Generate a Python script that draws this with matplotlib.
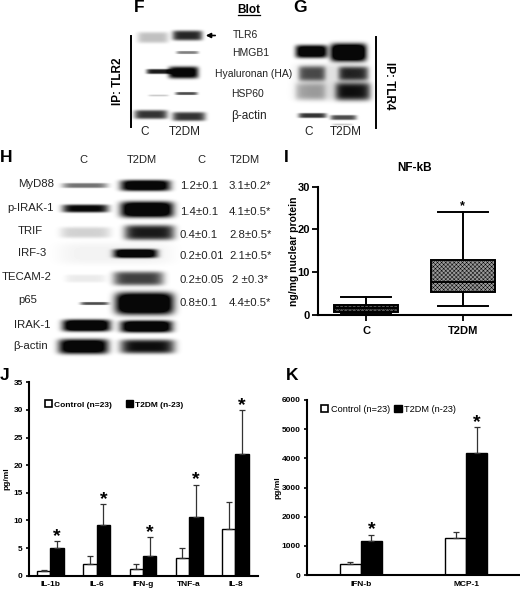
import numpy as np
import matplotlib
matplotlib.use('Agg')
import matplotlib.pyplot as plt
from matplotlib.patches import Patch

plt.rcParams['font.family'] = ['Liberation Sans', 'DejaVu Sans']
plt.rcParams['hatch.linewidth'] = 0.35

W, H = 520, 590

# Blot labels
blot_f = ['TLR6', 'HMGB1', 'Hyaluronan (HA)', 'HSP60', 'β-actin']
blot_h = ['MyD88', 'p-IRAK-1', 'TRIF', 'IRF-3', 'TECAM-2', 'p65', 'IRAK-1', 'β-actin']
h_control = ['1.2±0.1', '1.4±0.1', '0.4±0.1', '0.2±0.01', '0.2±0.05', '0.8±0.1']
h_t2dm = ['3.1±0.2*', '4.1±0.5*', '2.8±0.5*', '2.1±0.5*', '2 ±0.3*', '4.4±0.5*']

# Panel I box plot
box_names = ['C', 'T2DM']
box_low = [0.5, 2.2]
box_q1 = [0.8, 5.3]
box_med = [1.7, 7.8]
box_q3 = [2.4, 12.8]
box_high = [4.2, 24.0]

# Panel J
j_names = ['IL-1b', 'IL-6', 'IFN-g', 'TNF-a', 'IL-8']
j_control = [0.9, 2.1, 1.2, 3.2, 8.4]
j_control_err = [0.2, 1.5, 0.9, 1.9, 5.0]
j_t2dm = [5.0, 9.1, 3.5, 10.6, 22.0]
j_t2dm_err = [1.2, 3.9, 3.5, 5.9, 8.0]

# Panel K
k_names = ['IFN-b', 'MCP-1']
k_control = [370, 1270]
k_control_err = [90, 200]
k_t2dm = [1150, 4200]
k_t2dm_err = [230, 880]


def make_axes(fig, left, right, top, bottom):
    ax = fig.add_axes([left / W, 1 - bottom / H, (right - left) / W, (bottom - top) / H])
    ax.patch.set_alpha(0)
    ax.spines['top'].set_visible(False)
    ax.spines['right'].set_visible(False)
    ax.spines['left'].set_linewidth(1.5)
    ax.spines['bottom'].set_linewidth(1.5)
    return ax


# the blots are painted on one gray canvas in pixel coordinates
yy, xx = np.mgrid[0:H, 0:W]
canvas = np.zeros((H, W))


def band(x0, x1, y, h, dark):
    cx = (x0 + x1) / 2
    hw = (x1 - x0) / 2
    canvas[:] += dark * np.exp(-((xx - cx) / hw) ** 6 - ((yy - y) / (h / 2)) ** 4)


# panel F
band(137, 168, 37, 11, 0.25)
band(172, 202, 35, 10, 0.85)
band(176, 198, 52, 3, 0.5)
band(146, 170, 71, 5, 0.9)
band(168, 198, 72, 12, 1.1)
band(148, 168, 95, 2, 0.2)
band(175, 197, 93, 3, 0.7)
band(134, 167, 114, 9, 0.8)
band(172, 205, 116, 9, 0.8)
# panel G
band(295, 327, 51, 13, 1.2)
band(330, 366, 52, 18, 1.4)
band(295, 368, 73, 20, 0.12)
band(298, 325, 73, 15, 0.6)
band(338, 368, 73, 14, 0.75)
band(295, 370, 91, 19, 0.15)
band(295, 325, 91, 17, 0.25)
band(335, 370, 91, 18, 0.8)
band(298, 326, 115, 5, 0.8)
band(330, 356, 117, 5, 0.7)
band(332, 352, 124, 2, 0.2)
# panel H
band(62, 107, 185, 5, 0.55)
band(120, 170, 185, 11, 1.2)
band(62, 108, 208, 8, 1.0)
band(120, 173, 209, 16, 1.3)
band(60, 110, 232, 11, 0.18)
band(124, 174, 232, 15, 0.9)
band(58, 172, 253, 22, 0.05)
band(113, 157, 253, 9, 1.2)
band(65, 105, 278, 8, 0.08)
band(113, 163, 278, 14, 0.75)
band(80, 108, 303, 3, 0.7)
band(115, 173, 303, 22, 1.4)
band(62, 110, 325, 12, 1.3)
band(120, 172, 326, 12, 1.3)
band(58, 108, 346, 15, 1.2)
band(120, 174, 346, 14, 0.95)

fig = plt.figure(figsize=(W / 100, H / 100), dpi=100)
bg = fig.add_axes([0, 0, 1, 1])
bg.imshow(1 - np.clip(canvas, 0, 0.97), cmap='gray', vmin=0, vmax=1, extent=(0, W, H, 0), aspect='auto')
bg.set_xlim(0, W)
bg.set_ylim(H, 0)
bg.axis('off')

# panel letters
for letter, x, y in [('F', 134, 7), ('G', 293, 7), ('H', 0, 157), ('I', 284, 157), ('J', 0, 375), ('K', 286, 375)]:
    bg.text(x, y, letter, fontsize=12.5, fontweight='bold', va='center', ha='left')

# panels F and G text
bg.text(249, 10, 'Blot', fontsize=8.5, fontweight='bold', ha='center', va='center')
bg.plot([238, 260], [15, 15], color='k', lw=0.9)
for name, x, y in zip(blot_f, [245, 251, 254, 248, 249], [35, 53, 74, 94, 116]):
    bg.text(x, y, name, fontsize=8.5 if name == 'β-actin' else 7.5, ha='center', va='center', color='#222222')
bg.annotate('', xy=(203, 35.5), xytext=(218, 35.5), arrowprops=dict(arrowstyle='-|>', color='k', lw=1.2, mutation_scale=7))
bg.plot([131, 131], [36, 127], color='k', lw=1.4)
bg.plot([376, 376], [37, 128], color='k', lw=1.4)
bg.text(118, 81, 'IP: TLR2', fontsize=8.5, fontweight='bold', rotation=90, ha='center', va='center')
bg.text(389, 86, 'IP: TLR4', fontsize=8.5, fontweight='bold', rotation=270, ha='center', va='center')
for x, label in [(145, 'C'), (185, 'T2DM'), (309, 'C'), (346, 'T2DM')]:
    bg.text(x, 132, label, fontsize=8.5, ha='center', va='center', color='#222222')

# panel H text
for x, label in [(83, 'C'), (142, 'T2DM'), (201, 'C'), (245, 'T2DM')]:
    bg.text(x, 160, label, fontsize=8, ha='center', va='center', color='#222222')
for name, x, y in zip(blot_h, [36, 31, 30, 32, 27, 28, 32, 31], [184, 208, 231, 253, 277, 300, 325, 346]):
    bg.text(x, y, name, fontsize=8.2, ha='center', va='center', color='#222222')
for a, b, y in zip(h_control, h_t2dm, [186, 212, 235, 256, 280, 303]):
    bg.text(180, y, a, fontsize=8.2, ha='left', va='center', color='#222222')
    bg.text(229 if b[1] != ' ' else 232, y, b, fontsize=8.2, ha='left', va='center', color='#222222')

# panel I
ax_i = make_axes(fig, 318, 511, 186.7, 315)
stats = [dict(label=n, whislo=a, q1=b, med=c, q3=d, whishi=e)
         for n, a, b, c, d, e in zip(box_names, box_low, box_q1, box_med, box_q3, box_high)]
boxes = ax_i.bxp(stats, positions=[0, 1], widths=0.665, showfliers=False, patch_artist=True,
                 boxprops=dict(facecolor='#9a9a9a', edgecolor='k', lw=1.4, hatch='xxxxxxxx'),
                 medianprops=dict(color='k', lw=1.4),
                 whiskerprops=dict(color='k', lw=1.4),
                 capprops=dict(color='k', lw=1.4), capwidths=0.52)
boxes['boxes'][0].set_facecolor('#555555')
ax_i.set_xlim(-0.497, 1.5)
ax_i.set_ylim(0, 30)
ax_i.set_yticks([0, 10, 20, 30])
ax_i.tick_params(axis='both', width=1.3, length=4, labelsize=8, pad=2)
ax_i.tick_params(axis='x', pad=4)
for lab in ax_i.get_xticklabels() + ax_i.get_yticklabels():
    lab.set_fontweight('bold')
ax_i.set_ylabel('ng/mg nuclear protein', fontsize=7.5, fontweight='bold', labelpad=-1)
ax_i.set_title('NF-kB', fontsize=8.5, fontweight='bold', pad=11)
ax_i.text(1, box_high[1] + 1.4, '*', fontsize=9, fontweight='bold', ha='center', va='center')


def cytokine_bars(ax, names, control, control_err, t2dm, t2dm_err, width):
    pos = np.arange(len(names))
    ekw = dict(ecolor='#333333', elinewidth=0.9, capsize=2, capthick=0.9)
    ax.bar(pos - width / 2, control, width, color='white', edgecolor='k', lw=1.0,
           yerr=[np.zeros(len(names)), control_err], error_kw=ekw)
    ax.bar(pos + width / 2, t2dm, width, color='k', edgecolor='k', lw=1.0,
           yerr=[np.zeros(len(names)), t2dm_err], error_kw=ekw)
    ax.set_xticks(pos)
    ax.set_xticklabels(names, fontsize=6, fontweight='bold')
    ax.tick_params(axis='x', length=0, pad=4)
    ax.tick_params(axis='y', width=1.2, length=2.5, labelsize=6, pad=2)
    for lab in ax.get_yticklabels():
        lab.set_fontweight('bold')
    return pos


def legend_for(ax, anchor, weight, size, gap):
    handles = [Patch(facecolor='white', edgecolor='k', lw=1.2), Patch(facecolor='k', edgecolor='k')]
    ax.legend(handles, ['Control (n=23)', 'T2DM (n-23)'], ncol=2, frameon=False, loc='center left',
              bbox_to_anchor=anchor, bbox_transform=bg.transData, handlelength=0.8, handleheight=0.8,
              handletextpad=0.3, columnspacing=gap, borderpad=0, borderaxespad=0,
              prop=dict(size=size, weight=weight))


# panel J
ax_j = make_axes(fig, 29, 258, 382.3, 575.7)
pos = cytokine_bars(ax_j, j_names, j_control, j_control_err, j_t2dm, j_t2dm_err, 0.29)
ax_j.set_xlim(-0.465, 4.49)
ax_j.set_ylim(0, 35)
ax_j.set_yticks(np.arange(0, 36, 5))
ax_j.set_ylabel('pg/ml', fontsize=6, fontweight='bold', labelpad=2)
for p, v, e in zip(pos, j_t2dm, j_t2dm_err):
    ax_j.text(p + 0.145, v + e - 0.7, '*', fontsize=14, fontweight='bold', ha='center', va='bottom')
legend_for(ax_j, (45, 404.5), 'bold', 6.0, 1.7)

# panel K
ax_k = make_axes(fig, 307, 520, 400, 575)
pos = cytokine_bars(ax_k, k_names, k_control, k_control_err, k_t2dm, k_t2dm_err, 0.2)
ax_k.set_xlim(-0.514, 1.514)
ax_k.set_ylim(0, 6000)
ax_k.set_yticks(np.arange(0, 6001, 1000))
ax_k.set_ylabel('pg/ml', fontsize=6, fontweight='bold', labelpad=0)
for p, v, e in zip(pos, k_t2dm, k_t2dm_err):
    ax_k.text(p + 0.1, v + e - 130, '*', fontsize=14, fontweight='bold', ha='center', va='bottom')
legend_for(ax_k, (321, 409.5), 'normal', 6.6, 0.45)

fig.savefig('out.png', dpi=100)
